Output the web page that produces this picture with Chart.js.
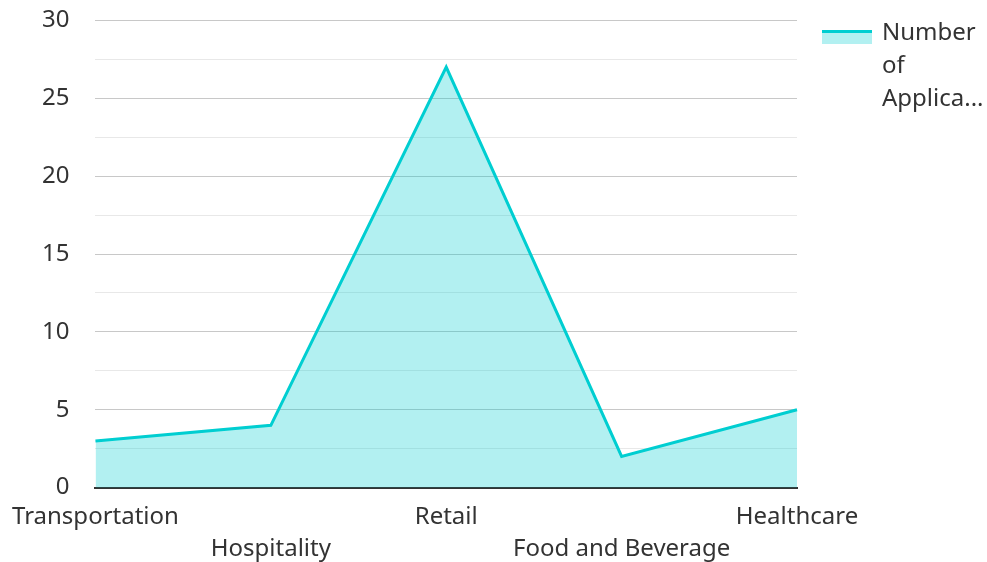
<!DOCTYPE html>
<html>
<head>
<meta charset="utf-8">
<script src="https://cdn.jsdelivr.net/npm/chart.js@4.4.1/dist/chart.umd.min.js"></script>
<style>
  body { margin: 0; background: #fff; overflow: hidden; }
  #wrap { position: relative; width: 987px; height: 562px; overflow: hidden; }
  #chartBox { position: absolute; left: -2px; top: -20px; width: 989px; height: 584px; }
  #legend { position: absolute; left: 822px; top: 14px; font-family: "Noto Sans", sans-serif; font-size: 24px; color: #333; line-height: 33px; }
  #legend .box { position: absolute; left: 0; top: 16px; width: 50px; height: 14px; background: rgba(0,206,209,0.3); border-top: 3px solid #00ced1; box-sizing: border-box; }
  #legend .txt { margin-left: 60px; width: 110px; }
</style>
</head>
<body>
<div id="wrap">
  <div id="chartBox"><canvas id="canvas"></canvas></div>
  <div id="legend"><div class="box"></div><div class="txt">Number<br>of<br>Applica...</div></div>
</div>
<script>
let categories = ['Transportation', 'Hospitality', 'Retail', 'Food and Beverage', 'Healthcare'];
let applications = [3, 4, 27, 2, 5];
let seriesName = 'Number of Applications';

let canvas = document.getElementById('canvas');

new Chart(canvas, {
  type: 'line',
  data: {
    labels: categories,
    datasets: [{
      label: seriesName,
      data: applications,
      borderColor: '#00ced1',
      backgroundColor: 'rgba(0,206,209,0.3)',
      borderWidth: 3,
      fill: 'origin',
      tension: 0,
      pointRadius: 0
    }]
  },
  options: {
    responsive: true,
    maintainAspectRatio: false,
    animation: false,
    layout: { padding: { top: -16, right: 190, left: 0, bottom: -15 } },
    plugins: { legend: { display: false }, tooltip: { enabled: false } },
    scales: {
      x: {
        offset: false,
        grid: { display: false, drawTicks: false },
        border: { color: '#333', width: 2 },
        ticks: {
          autoSkip: false,
          maxRotation: 0,
          padding: 14,
          color: '#333',
          font: { family: 'Noto Sans', size: 24, lineHeight: 1.32 },
          callback: function(v, i) {
            return i % 2 === 1 ? ['', categories[i]] : categories[i];
          }
        }
      },
      y: {
        min: 0,
        max: 30,
        grid: {
          drawTicks: false,
          color: ctx => (ctx.tick && ctx.tick.value % 5 === 0) ? '#c8c8c8' : '#e8e8e8'
        },
        border: { display: false },
        ticks: {
          stepSize: 2.5,
          autoSkip: false,
          padding: 26,
          color: '#333',
          font: { family: 'Noto Sans', size: 24 },
          callback: v => v % 5 === 0 ? String(v) : ' '
        }
      }
    }
  }
});
</script>
</body>
</html>
